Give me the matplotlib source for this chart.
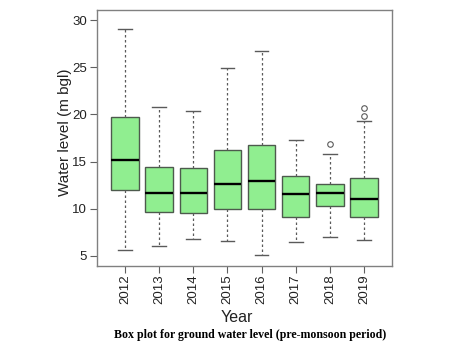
import matplotlib
matplotlib.use("Agg")
import matplotlib.pyplot as plt

years = ["2012", "2013", "2014", "2015", "2016", "2017", "2018", "2019"]
whisker_low = [5.6, 6.1, 6.8, 6.6, 5.1, 6.5, 7.0, 6.7]
q1 = [12.0, 9.7, 9.6, 9.95, 10.0, 9.1, 10.3, 9.15]
median = [15.15, 11.65, 11.65, 12.6, 12.9, 11.6, 11.65, 11.05]
q3 = [19.7, 14.45, 14.3, 16.2, 16.75, 13.45, 12.65, 13.25]
whisker_high = [29.0, 20.8, 20.35, 24.9, 26.7, 17.3, 15.85, 19.3]
outliers = [[], [], [], [], [], [], [16.85], [19.85, 20.65]]

plt.rcParams['font.family'] = ['Liberation Sans', 'DejaVu Sans']

fig = plt.figure(figsize=(4.74, 3.55), dpi=100)
ax = fig.add_axes([97/474, 1-265.7/355, (392-97)/474, (265.7-10)/355])

stats = []
for i in range(len(years)):
    stats.append(dict(whislo=whisker_low[i], q1=q1[i], med=median[i], q3=q3[i],
                      whishi=whisker_high[i], fliers=outliers[i], label=years[i]))

gray = "#5a5a5a"
ax.bxp(stats, positions=range(1, len(years)+1), widths=0.8, patch_artist=True,
       boxprops=dict(facecolor="#90EE90", edgecolor="#4d5a4d", linewidth=1.0),
       medianprops=dict(color="black", linewidth=1.7),
       whiskerprops=dict(color=gray, linestyle=(0, (2, 2)), linewidth=0.9),
       capprops=dict(color=gray, linewidth=1.0),
       capwidths=0.4,
       flierprops=dict(marker="o", markerfacecolor="none", markeredgecolor=gray,
                       markersize=4, markeredgewidth=0.8))

ax.set_xlim(0.18, 8.82)
ax.set_ylim(3.97, 31.06)
ax.set_yticks([5, 10, 15, 20, 25, 30])
ax.set_xticks(range(1, len(years)+1))
ax.set_xticklabels(years, rotation=90)
for s in ax.spines.values():
    s.set_color("#808080")
    s.set_linewidth(1.0)
ax.tick_params(axis="both", colors="#606060", length=5, width=0.8,
               labelcolor="#222222", pad=2)
ax.tick_params(axis="y", labelsize=9.5)
ax.tick_params(axis="x", labelsize=9.5, pad=1.5)
fig.text(65/474, 1-132.5/355, "Water level (m bgl)", fontsize=11, color="#222222",
         rotation=90, ha="center", va="center")
fig.text(237/474, 1-318/355, "Year", fontsize=11.5, color="#222222", ha="center", va="center")
fig.text(250/474, 1-335/355, "Box plot for ground water level (pre-monsoon period)",
         family=["Liberation Serif", "DejaVu Serif"], fontweight="bold", fontsize=8.6,
         ha="center", va="center", color="black")

fig.savefig("out.png", dpi=100)
